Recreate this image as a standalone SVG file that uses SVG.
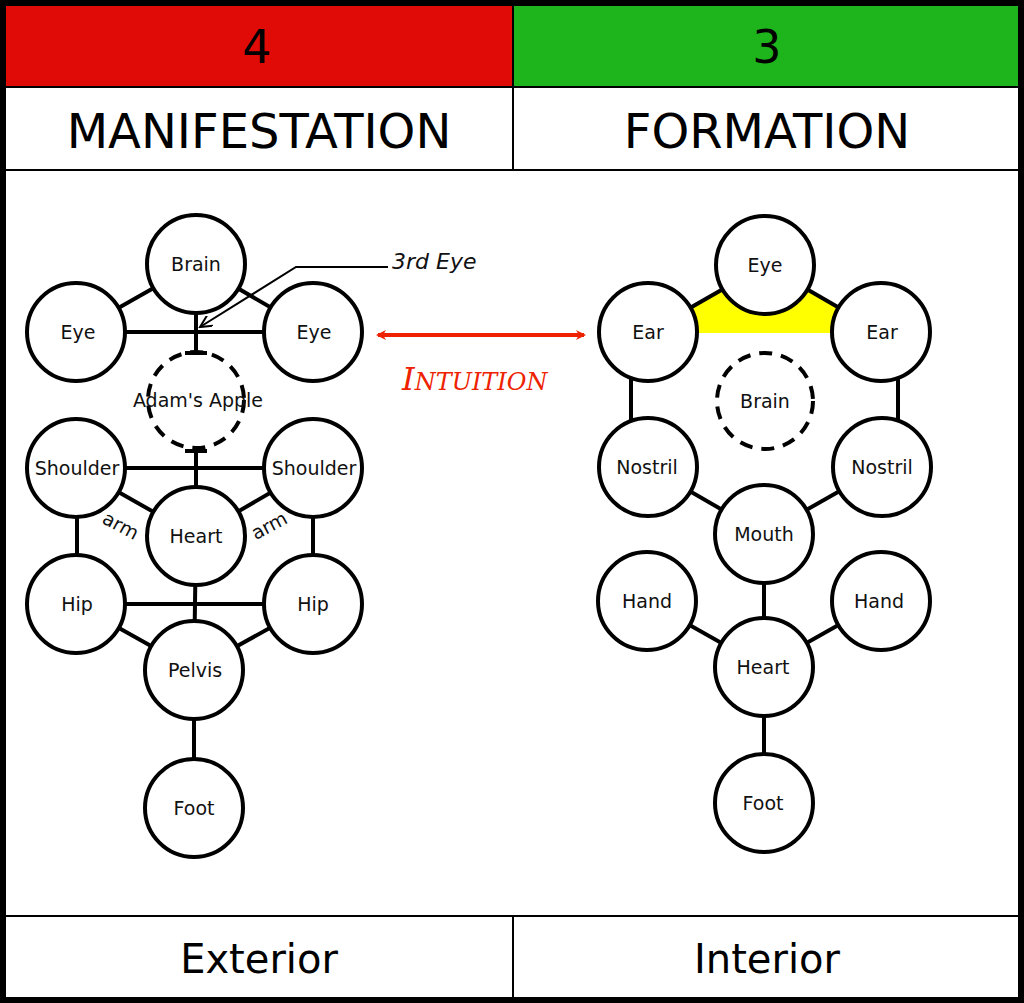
<svg xmlns="http://www.w3.org/2000/svg" width="1024" height="1003" viewBox="0 0 1024 1003">
<style>
.n{fill:#fff;stroke:#000;stroke-width:4}
.d{fill:#fff;stroke:#000;stroke-width:4;stroke-dasharray:13 9}
.t{font-family:"DejaVu Sans",sans-serif;font-size:19px;text-anchor:middle;fill:#111}
.h{font-family:"DejaVu Sans",sans-serif;text-anchor:middle;fill:#000}
#conn line,#conn polyline{stroke:#000;stroke-width:4;fill:none}
</style>
<defs>
<marker id="ra" markerWidth="10" markerHeight="10" refX="8" refY="5" orient="auto-start-reverse" markerUnits="userSpaceOnUse"><path d="M0,0 L10,5 L0,10 L3,5z" fill="#ee2200"/></marker>
<marker id="ba" markerWidth="14" markerHeight="12" refX="12" refY="6" orient="auto" markerUnits="userSpaceOnUse"><path d="M0,0 L12,6 L0,12" fill="none" stroke="#000" stroke-width="2"/></marker>
</defs>
<rect x="0" y="0" width="1024" height="1003" fill="#000"/>
<rect x="6" y="6" width="1012" height="991" fill="#fff"/>
<rect x="6" y="6" width="506" height="80" fill="#e00b07"/>
<rect x="514" y="6" width="504" height="80" fill="#1eb51c"/>
<g stroke="#000" stroke-width="2">
<line x1="6" y1="87" x2="1018" y2="87"/><line x1="6" y1="170" x2="1018" y2="170"/><line x1="6" y1="916" x2="1018" y2="916"/>
<line x1="513" y1="6" x2="513" y2="170"/><line x1="513" y1="916" x2="513" y2="997"/>
</g>
<text class="h" x="257" y="63" font-size="46">4</text>
<text class="h" x="767" y="63" font-size="46">3</text>
<text class="h" x="259" y="148" font-size="48">MANIFESTATION</text>
<text class="h" x="767" y="148" font-size="48">FORMATION</text>
<text class="h" x="259" y="973" font-size="40">Exterior</text>
<text class="h" x="767" y="973" font-size="40">Interior</text>
<polygon points="693,306 720,292 810,292 837,306 833,333 697,333" fill="#ffff00"/>
<g id="conn">
<line x1="76" y1="332" x2="196" y2="264"/><line x1="313" y1="332" x2="196" y2="264"/>
<line x1="76" y1="332" x2="313" y2="332"/>
<line x1="196" y1="300" x2="196" y2="353"/><line x1="185" y1="353" x2="207" y2="353"/>
<line x1="185" y1="451" x2="207" y2="451"/><line x1="196" y1="451" x2="196" y2="500"/>
<line x1="76" y1="468" x2="313" y2="468"/>
<line x1="76" y1="468" x2="196" y2="536"/><line x1="313" y1="468" x2="196" y2="536"/>
<line x1="77" y1="468" x2="77" y2="604"/><line x1="313" y1="468" x2="313" y2="604"/>
<line x1="76" y1="604" x2="313" y2="604"/>
<line x1="196" y1="536" x2="194" y2="670"/>
<line x1="76" y1="604" x2="194" y2="670"/><line x1="313" y1="604" x2="194" y2="670"/>
<line x1="194" y1="670" x2="194" y2="808"/>
<line x1="648" y1="332" x2="765" y2="265"/><line x1="881" y1="332" x2="765" y2="265"/>
<line x1="631" y1="332" x2="631" y2="467"/><line x1="898" y1="332" x2="898" y2="467"/>
<line x1="648" y1="467" x2="764" y2="534"/><line x1="882" y1="467" x2="764" y2="534"/>
<line x1="764" y1="534" x2="764" y2="667"/>
<line x1="647" y1="601" x2="764" y2="667"/><line x1="881" y1="601" x2="764" y2="667"/>
<line x1="764" y1="667" x2="764" y2="803"/>
<polyline points="388,267 296,267 200,327" style="stroke-width:2" marker-end="url(#ba)"/>
<line x1="378" y1="335" x2="584" y2="335" style="stroke:#ee2200;stroke-width:4" marker-start="url(#ra)" marker-end="url(#ra)"/>
</g>
<g id="brainL"><circle class="n" cx="196" cy="264" r="49"/><text class="t" x="196" y="271">Brain</text></g>
<g id="eyeL1"><circle class="n" cx="76" cy="332" r="49"/><text class="t" x="78" y="339">Eye</text></g>
<g id="eyeL2"><circle class="n" cx="313" cy="332" r="49"/><text class="t" x="314" y="339">Eye</text></g>
<g id="adam"><circle class="d" cx="196" cy="400" r="48" fill="none" style="fill:none"/><text class="t" x="198" y="407" fill="#333">Adam's Apple</text></g>
<g id="shL1"><circle class="n" cx="76" cy="468" r="49"/><text class="t" x="77" y="475">Shoulder</text></g>
<g id="shL2"><circle class="n" cx="313" cy="468" r="49"/><text class="t" x="314" y="475">Shoulder</text></g>
<g id="heartL"><circle class="n" cx="196" cy="536" r="49"/><text class="t" x="196" y="543">Heart</text></g>
<g id="hipL1"><circle class="n" cx="76" cy="604" r="49"/><text class="t" x="77" y="611">Hip</text></g>
<g id="hipL2"><circle class="n" cx="313" cy="604" r="49"/><text class="t" x="313" y="611">Hip</text></g>
<g id="pelvis"><circle class="n" cx="194" cy="670" r="49"/><text class="t" x="195" y="677">Pelvis</text></g>
<g id="footL"><circle class="n" cx="194" cy="808" r="49"/><text class="t" x="194" y="815">Foot</text></g>
<text class="t" x="120" y="532" transform="rotate(28 120 527)">arm</text>
<text class="t" x="270" y="532" transform="rotate(-28 270 527)">arm</text>
<text x="392" y="269" font-family="DejaVu Sans,sans-serif" font-style="italic" font-size="22" fill="#111">3rd Eye</text>
<text x="402" y="390" font-family="DejaVu Serif,serif" font-style="italic" fill="#ee2200"><tspan font-size="32">I</tspan><tspan font-size="24">NTUITION</tspan></text>
<g id="eyeR"><circle class="n" cx="765" cy="265" r="49"/><text class="t" x="765" y="272">Eye</text></g>
<g id="earR1"><circle class="n" cx="648" cy="332" r="49"/><text class="t" x="648" y="339">Ear</text></g>
<g id="earR2"><circle class="n" cx="881" cy="332" r="49"/><text class="t" x="882" y="339">Ear</text></g>
<g id="brainR"><circle class="d" cx="765" cy="401" r="48"/><text class="t" x="765" y="408">Brain</text></g>
<g id="nosR1"><circle class="n" cx="648" cy="467" r="49"/><text class="t" x="647" y="474">Nostril</text></g>
<g id="nosR2"><circle class="n" cx="882" cy="467" r="49"/><text class="t" x="882" y="474">Nostril</text></g>
<g id="mouth"><circle class="n" cx="764" cy="534" r="49"/><text class="t" x="764" y="541">Mouth</text></g>
<g id="handR1"><circle class="n" cx="647" cy="601" r="49"/><text class="t" x="647" y="608">Hand</text></g>
<g id="handR2"><circle class="n" cx="881" cy="601" r="49"/><text class="t" x="879" y="608">Hand</text></g>
<g id="heartR"><circle class="n" cx="764" cy="667" r="49"/><text class="t" x="763" y="674">Heart</text></g>
<g id="footR"><circle class="n" cx="764" cy="803" r="49"/><text class="t" x="763" y="810">Foot</text></g>
</svg>
